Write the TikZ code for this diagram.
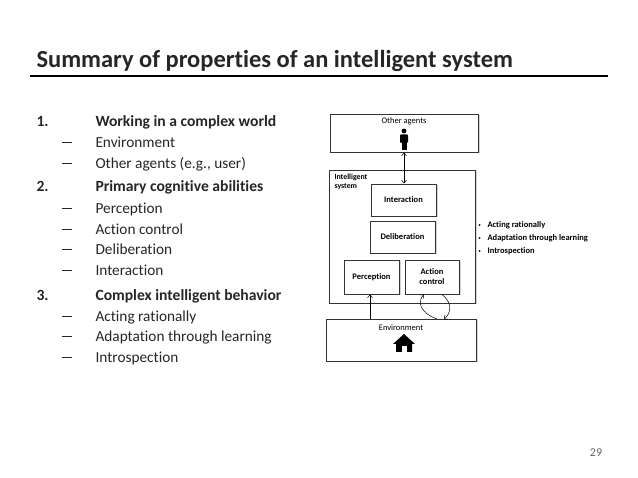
\documentclass[tikz,border=0pt]{standalone}
\usepackage{fontspec}
\setmainfont[Ligatures=NoCommon]{Carlito}
\usetikzlibrary{shadows,arrows.meta}
\begin{document}
\begin{tikzpicture}[x=1pt,y=-1pt,
  box/.style={draw=black!80,fill=white,line width=0.6pt,drop shadow={shadow xshift=1.5pt,shadow yshift=-1.5pt,opacity=0.35}},
  lbl/.style={font=\bfseries\fontsize{8.5}{10}\selectfont,align=center},
  ar/.style={-{Straight Barb[length=3pt,width=5pt]},line width=0.5pt},
  lvl1/.style={anchor=base west,font=\bfseries\fontsize{15.6}{18}\selectfont,text=black!85},
  lvl2/.style={anchor=base west,font=\fontsize{15.3}{16}\selectfont,text=black!85}]
\useasboundingbox (0,0) rectangle (638,478);
\node[anchor=base west,font=\bfseries\fontsize{24.5}{28}\selectfont,text=black!85] (title) at (33,68) {Summary of properties of an intelligent system};
\draw[line width=1.2pt] (30,76) -- (608,76);
% list
\foreach \y/\n/\t in {121/1./Working in a complex world,186/2./Primary cognitive abilities,295/3./Complex intelligent behavior}{
  \node[lvl1] at (33,\y+5.5) {\n}; \node[lvl1] at (92,\y+5.5) {\t};}
\foreach \y/\t in {142/Environment,163/{Other agents (e.g., user)},208/Perception,229/Action control,249/Deliberation,270/Interaction,316/Acting rationally,336/Adaptation through learning,357/Introspection}{
  \fill[black!85] (62,\y+0.1) rectangle (72,\y+1.5); \node[lvl2] at (92,\y+5.5) {\t};}
% diagram
\node[box,minimum width=148pt,minimum height=38pt] (oa) at (404,133) {};
\node[font=\fontsize{8.5}{10}\selectfont,anchor=north] (oat) at (404,114) {Other agents};
\node[box,minimum width=146pt,minimum height=133pt] (is) at (402,236.5) {};
\node[lbl,font=\bfseries\fontsize{7.8}{9.5}\selectfont,anchor=north west,align=left] (ist) at (331,170) {Intelligent\\system};
\node[box,lbl,minimum width=65pt,minimum height=32pt] (int) at (403.5,200) {Interaction};
\node[box,lbl,minimum width=65pt,minimum height=32pt] (del) at (402.5,237) {Deliberation};
\node[box,lbl,minimum width=55pt,minimum height=34pt] (per) at (371.5,277) {Perception};
\node[box,lbl,minimum width=54pt,minimum height=34pt] (act) at (432,277) {Action\\control};
\node[box,minimum width=150pt,minimum height=42pt] (env) at (401,340) {};
\node[font=\fontsize{8.5}{10}\selectfont,anchor=north] (envt) at (401,321) {Environment};
% person icon
\fill (404,131) circle (2.4pt);
\fill[rounded corners=1pt] (400,134.5) rectangle (408,143);
\fill (401.5,141) rectangle (403.6,150);
\fill (404.4,141) rectangle (406.5,150);
% house icon
\fill (393,344) -- (404,334) -- (415,344) -- (412,344) -- (412,352) -- (396,352) -- (396,344) -- cycle;
\fill[white] (401.5,346) rectangle (406.5,352);
% arrows
\draw[{Straight Barb[length=3pt,width=5pt]}-{Straight Barb[length=3pt,width=5pt]},line width=0.5pt] (404,152.5) -- (404,183.5);
\draw[ar] (370,319) -- (370,294.5);
\draw[ar] (437,319) .. controls (418,312) and (418,300) .. (424,294.5);
\draw[ar] (442,294.5) .. controls (452,302) and (452,312) .. (444,319.5);
% bullets
\foreach \y/\t in {225/Acting rationally,238/Adaptation through learning,251/Introspection}{
  \fill (479.5,\y) circle (1pt);
  \node[anchor=west,font=\bfseries\fontsize{8.5}{10}\selectfont] at (484,\y) {\t};}
\node[font=\fontsize{12}{14}\selectfont,text=black!60] (pg) at (596,453) {29};
\end{tikzpicture}
\end{document}
